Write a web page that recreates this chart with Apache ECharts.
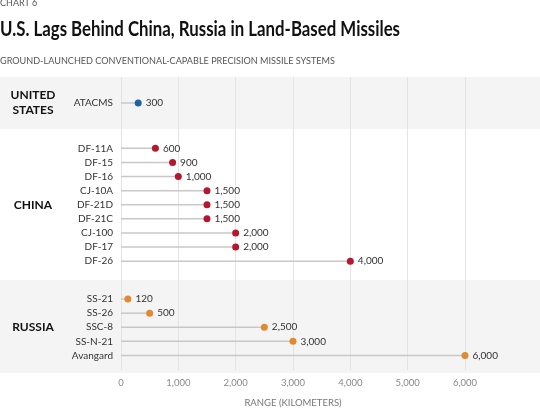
<!DOCTYPE html>
<html>
<head>
<meta charset="utf-8">
<script src="https://cdn.jsdelivr.net/npm/echarts@6/dist/echarts.min.js"></script>
<style>html,body{margin:0;padding:0;background:#fff}#c{width:540px;height:413px}</style>
</head>
<body>
<div id="c"></div>
<script>
const usCategories = ['ATACMS'];
const usValues = [300];
const chinaCategories = ['DF-11A','DF-15','DF-16','CJ-10A','DF-21D','DF-21C','CJ-100','DF-17','DF-26'];
const chinaValues = [600,900,1000,1500,1500,1500,2000,2000,4000];
const russiaCategories = ['SS-21','SS-26','SSC-8','SS-N-21','Avangard'];
const russiaValues = [120,500,2500,3000,6000];
const xTicks = [0,1000,2000,3000,4000,5000,6000];

const FONT = 'Lato, "Open Sans", sans-serif';
const fmt = v => Number(v).toLocaleString('en-US');

const TITLE = 'U.S. Lags Behind China, Russia in Land-Based Missiles';
const TITLE_FONT = 'bold 20px ' + FONT;
const SUB = 'GROUND-LAUNCHED CONVENTIONAL-CAPABLE PRECISION MISSILE SYSTEMS';
const SUB_FONT = '10px ' + FONT;
const ctx = document.createElement('canvas').getContext('2d');
ctx.font = TITLE_FONT;
const titleScale = 400 / ctx.measureText(TITLE).width;
ctx.font = SUB_FONT;
const subScale = 335 / ctx.measureText(SUB).width;

const groups = [
  {cats: usCategories, vals: usValues, color: '#1f62a3', top: 96, height: 14.1},
  {cats: chinaCategories, vals: chinaValues, color: '#b5172f', top: 141.3, height: 126.9},
  {cats: russiaCategories, vals: russiaValues, color: '#e08a32', top: 292, height: 70.5}
];

const grid = [{left: 121, right: 75, top: 77, height: 296}];
const xAxis = [{
  gridIndex: 0, type: 'value', min: xTicks[0], max: xTicks[xTicks.length-1], interval: 1000,
  axisLine: {show: false}, axisTick: {show: false},
  splitLine: {show: true, lineStyle: {color: '#e4e4e4', width: 1}},
  axisLabel: {color: '#8a8a8a', fontSize: 9.5, fontFamily: FONT, margin: 8, formatter: fmt},
  name: 'RANGE (KILOMETERS)', nameLocation: 'middle', nameGap: 28,
  nameTextStyle: {color: '#777', fontSize: 9.5, fontFamily: FONT}
}];
const yAxis = [{gridIndex: 0, type: 'value', show: false}];
const series = [];

groups.forEach((g, i) => {
  const gi = i + 1;
  grid.push({left: 121, right: 75, top: g.top, height: g.height});
  xAxis.push({gridIndex: gi, type: 'value', min: 0, max: 6000, show: false});
  yAxis.push({
    gridIndex: gi, type: 'category', data: g.cats, inverse: true,
    axisLine: {show: false}, axisTick: {show: false}, splitLine: {show: false},
    axisLabel: {interval: 0, color: '#333', fontSize: 10, fontFamily: FONT, margin: 8}
  });
  series.push({
    type: 'bar', xAxisIndex: gi, yAxisIndex: gi, data: g.vals, barWidth: 1.5,
    itemStyle: {color: '#c8c8c8'}, silent: true, z: 3
  });
  series.push({
    type: 'scatter', xAxisIndex: gi, yAxisIndex: gi,
    data: g.vals.map((v, k) => [v, g.cats[k]]),
    symbolSize: 7, itemStyle: {color: g.color, opacity: 1}, z: 4,
    label: {show: true, position: 'right', distance: 4, color: '#333', fontSize: 10, fontFamily: FONT,
      formatter: p => fmt(p.value[0])}
  });
});

const chart = echarts.init(document.getElementById('c'), null, {renderer: 'canvas'});
chart.setOption({
  animation: false,
  grid, xAxis, yAxis, series,
  graphic: {
    z: -1,
    elements: [
      {type: 'rect', left: 0, top: 77, shape: {width: 540, height: 52}, style: {fill: '#f4f4f4'}, z: -1, silent: true},
      {type: 'rect', left: 0, top: 280, shape: {width: 540, height: 93}, style: {fill: '#f4f4f4'}, z: -1, silent: true},
      {type: 'text', x: 0, y: -1, style: {text: 'CHART 6', fill: '#555', font: '9px ' + FONT}},
      {type: 'text', x: 0, y: 20, scaleX: titleScale, style: {text: TITLE, fill: '#111', font: TITLE_FONT}},
      {type: 'text', x: 0, y: 56, scaleX: subScale, style: {text: SUB, fill: '#555', font: SUB_FONT}},
      {type: 'text', x: 33, y: 103, style: {text: 'UNITED\nSTATES', fill: '#111', font: 'bold 12px ' + FONT, align: 'center', verticalAlign: 'middle', lineHeight: 15}},
      {type: 'text', x: 33, y: 205, style: {text: 'CHINA', fill: '#111', font: 'bold 12px ' + FONT, align: 'center', verticalAlign: 'middle'}},
      {type: 'text', x: 33, y: 327.5, style: {text: 'RUSSIA', fill: '#111', font: 'bold 12px ' + FONT, align: 'center', verticalAlign: 'middle'}}
    ]
  }
});
</script>
</body>
</html>
